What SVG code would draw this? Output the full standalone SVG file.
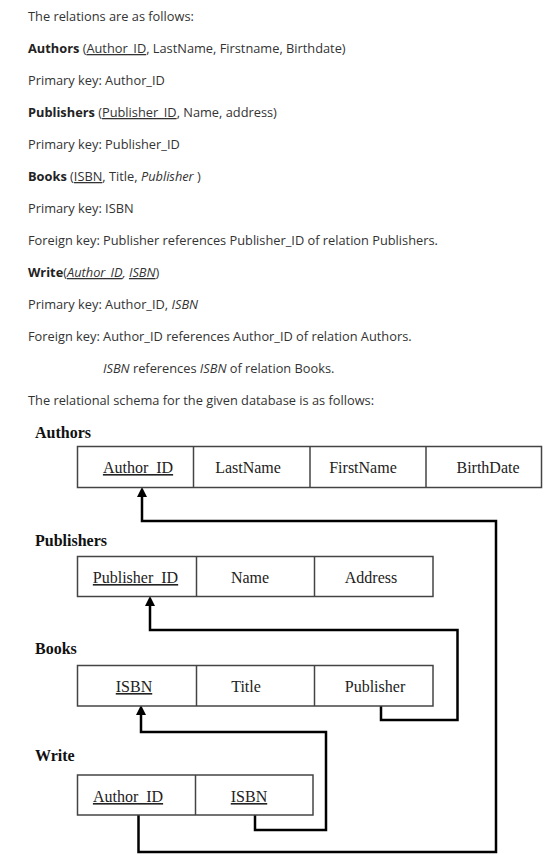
<svg xmlns="http://www.w3.org/2000/svg" width="552" height="863" viewBox="0 0 552 863">
<style>
.t{font-family:"Open Sans","Liberation Sans",sans-serif;font-size:12.8px;fill:#333}
.b{font-weight:bold;fill:#222}
.i{font-style:italic}
.u{text-decoration:underline}
.lbl{font-family:"Liberation Serif","Times New Roman",serif;font-size:16px;font-weight:bold;fill:#111}
.cell{font-family:"Liberation Serif","Times New Roman",serif;font-size:16px;fill:#222;text-anchor:middle}
.box{fill:#fff;stroke:#444;stroke-width:1.5}
.div{stroke:#444;stroke-width:1.5}
.conn{fill:none;stroke:#000;stroke-width:2.5}
</style>
<defs>
<marker id="arr" markerUnits="userSpaceOnUse" markerWidth="10" markerHeight="10" viewBox="0 0 10 10" refX="0" refY="5" orient="auto">
<path d="M0,0 L10,5 L0,10 z" fill="#000"/>
</marker>
</defs>
<rect width="552" height="863" fill="#fff"/>
<g id="text">
<text class="t" x="28" y="21">The relations are as follows:</text>
<text class="t" x="28" y="53"><tspan class="b">Authors</tspan> (<tspan class="u">Author_ID</tspan>, LastName, Firstname, Birthdate)</text>
<text class="t" x="28" y="85">Primary key: Author_ID</text>
<text class="t" x="28" y="117"><tspan class="b">Publishers</tspan> (<tspan class="u">Publisher_ID</tspan>, Name, address)</text>
<text class="t" x="28" y="149">Primary key: Publisher_ID</text>
<text class="t" x="28" y="181"><tspan class="b">Books</tspan> (<tspan class="u">ISBN</tspan>, Title, <tspan class="i">Publisher</tspan> )</text>
<text class="t" x="28" y="213">Primary key: ISBN</text>
<text class="t" x="28" y="245">Foreign key: Publisher references Publisher_ID of relation Publishers.</text>
<text class="t" x="28" y="277"><tspan class="b">Write</tspan>(<tspan class="i u">Author_ID</tspan><tspan class="i">, </tspan><tspan class="i u">ISBN</tspan>)</text>
<text class="t" x="28" y="309">Primary key: Author_ID, <tspan class="i">ISBN</tspan></text>
<text class="t" x="28" y="341">Foreign key: Author_ID references Author_ID of relation Authors.</text>
<text class="t" x="103" y="373"><tspan class="i">ISBN</tspan> references <tspan class="i">ISBN</tspan> of relation Books.</text>
<text class="t" x="28" y="405">The relational schema for the given database is as follows:</text>
</g>
<g id="connectors">
<path class="conn" d="M138.5,815 V852 H496 V521 H142 V497" marker-end="url(#arr)"/>
<path class="conn" d="M381,706 V720 H457.5 V630 H150 V606" marker-end="url(#arr)"/>
<path class="conn" d="M255,815 V830 H326 V732 H141 V715" marker-end="url(#arr)"/>
</g>
<g id="authors">
<text class="lbl" x="35" y="438">Authors</text>
<rect class="box" x="77.5" y="446.5" width="464" height="41"/>
<line class="div" x1="193.5" y1="446.5" x2="193.5" y2="487.5"/>
<line class="div" x1="310" y1="446.5" x2="310" y2="487.5"/>
<line class="div" x1="426" y1="446.5" x2="426" y2="487.5"/>
<text class="cell u" x="138" y="473">Author_ID</text>
<text class="cell" x="248" y="473">LastName</text>
<text class="cell" x="363" y="473">FirstName</text>
<text class="cell" x="488" y="473">BirthDate</text>
</g>
<g id="publishers">
<text class="lbl" x="35" y="546">Publishers</text>
<rect class="box" x="77.5" y="556.5" width="355.5" height="40"/>
<line class="div" x1="196.5" y1="556.5" x2="196.5" y2="596.5"/>
<line class="div" x1="314.5" y1="556.5" x2="314.5" y2="596.5"/>
<text class="cell u" x="135.5" y="583">Publisher_ID</text>
<text class="cell" x="250" y="583">Name</text>
<text class="cell" x="371" y="583">Address</text>
</g>
<g id="books">
<text class="lbl" x="35" y="654">Books</text>
<rect class="box" x="77.5" y="665.5" width="355.5" height="40.5"/>
<line class="div" x1="196.5" y1="665.5" x2="196.5" y2="706"/>
<line class="div" x1="314.5" y1="665.5" x2="314.5" y2="706"/>
<text class="cell u" x="134" y="692">ISBN</text>
<text class="cell" x="246" y="692">Title</text>
<text class="cell" x="375" y="692">Publisher</text>
</g>
<g id="write">
<text class="lbl" x="35" y="761">Write</text>
<rect class="box" x="77.5" y="775" width="235.5" height="40"/>
<line class="div" x1="195.5" y1="775" x2="195.5" y2="815"/>
<text class="cell u" x="128" y="802">Author_ID</text>
<text class="cell u" x="249" y="802">ISBN</text>
</g>
</svg>
